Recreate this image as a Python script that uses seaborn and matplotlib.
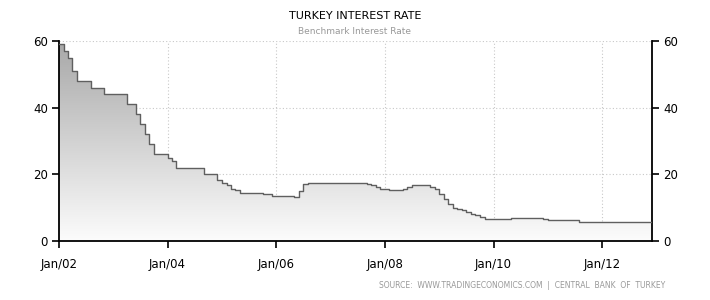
import numpy as np
import pandas as pd
import matplotlib
matplotlib.use("Agg")
import matplotlib.pyplot as plt
import matplotlib.dates as mdates
from matplotlib.colors import LinearSegmentedColormap
import seaborn as sns

# monthly benchmark rate, Jan 2002 .. Dec 2012
rate_2002 = [59, 57, 55, 51, 48, 48, 48, 46, 46, 46, 44, 44]
rate_2003 = [44, 44, 44, 41, 41, 38, 35, 32, 29, 26, 26, 26]
rate_2004 = [25, 24, 22, 22, 22, 22, 22, 22, 20, 20, 20, 18.25]
rate_2005 = [17.5, 16.75, 15.75, 15.25, 14.5, 14.5, 14.5, 14.5, 14.5, 14, 14, 13.5]
rate_2006 = [13.5, 13.5, 13.5, 13.5, 13.25, 15, 17.25, 17.5, 17.5, 17.5, 17.5, 17.5]
rate_2007 = [17.5, 17.5, 17.5, 17.5, 17.5, 17.5, 17.5, 17.5, 17.25, 16.75, 16.25, 15.75]
rate_2008 = [15.5, 15.25, 15.25, 15.25, 15.75, 16.25, 16.75, 16.75, 16.75, 16.75, 16.25, 15.5]
rate_2009 = [14, 12.5, 11, 10, 9.75, 9.25, 8.75, 8.25, 7.75, 7.25, 6.75, 6.5]
rate_2010 = [6.5, 6.5, 6.5, 6.5, 7, 7, 7, 7, 7, 7, 7, 6.5]
rate_2011 = [6.25, 6.25, 6.25, 6.25, 6.25, 6.25, 6.25, 5.75, 5.75, 5.75, 5.75, 5.75]
rate_2012 = [5.75] * 12

rates = (rate_2002 + rate_2003 + rate_2004 + rate_2005 + rate_2006 + rate_2007
         + rate_2008 + rate_2009 + rate_2010 + rate_2011 + rate_2012)
dates = pd.date_range("2002-01-01", periods=len(rates), freq="MS")
df = pd.DataFrame({"Date": dates, "Rate": rates})

tick_years = [2002, 2004, 2006, 2008, 2010, 2012]
tick_labels = ["Jan/02", "Jan/04", "Jan/06", "Jan/08", "Jan/10", "Jan/12"]
y_ticks = [0, 20, 40, 60]

sns.set_style("white")
plt.rcParams["font.family"] = ["DejaVu Sans"]

fig = plt.figure(figsize=(7.1, 3.0), dpi=100)
ax = fig.add_axes([59 / 710, 1 - 241 / 300, (652 - 59) / 710, 200 / 300])

sns.lineplot(data=df, x="Date", y="Rate", ax=ax, color="#5f5f5f",
             linewidth=1.0, drawstyle="steps-post", zorder=3)

# gradient fill under the line
poly = ax.fill_between(df["Date"], df["Rate"], 0, step="post",
                       facecolor="none", edgecolor="none")
x0 = mdates.date2num(df["Date"].iloc[0])
x1 = mdates.date2num(df["Date"].iloc[-1])
cmap = LinearSegmentedColormap.from_list("g", ["#fcfcfc", "#a8a8a8"])
grad = np.linspace(0, 1, 256).reshape(-1, 1)
img = ax.imshow(grad, cmap=cmap, extent=[x0, x1, 0, 60], origin="lower",
                aspect="auto", zorder=2)
img.set_clip_path(poly.get_paths()[0], transform=ax.transData)

ax.set_xlim(x0, x1)
ax.set_ylim(0, 60)
ax.set_xticks([mdates.date2num(pd.Timestamp(f"{y}-01-01")) for y in tick_years])
ax.set_xticklabels(tick_labels)
ax.set_yticks(y_ticks)
ax.set_xlabel("")
ax.set_ylabel("")

ax.grid(True, color="#c8c8c8", linestyle=(0, (1, 2)), linewidth=0.8, zorder=1)
ax.set_axisbelow(True)

for side in ["left", "right", "bottom"]:
    ax.spines[side].set_color("black")
    ax.spines[side].set_linewidth(1.3)
ax.spines["top"].set_visible(False)

ax.tick_params(axis="both", direction="out", length=5, width=1.2, color="black",
               labelsize=8.5, labelcolor="black")
ax.tick_params(axis="y", right=True, labelright=True, left=True, pad=3)
ax.tick_params(axis="x", bottom=True, pad=7)

fig.text(0.5, 1 - 16 / 300, "TURKEY INTEREST RATE", ha="center", va="center",
         fontsize=8, color="black")
fig.text(0.5, 1 - 32 / 300, "Benchmark Interest Rate", ha="center", va="center",
         fontsize=6.5, color="#999999")
fig.text(665 / 710, 1 - 286 / 300,
         "SOURCE:  WWW.TRADINGECONOMICS.COM  |  CENTRAL  BANK  OF  TURKEY",
         ha="right", va="center", fontsize=5.5, color="#999999")

fig.savefig("out.png", dpi=100)
